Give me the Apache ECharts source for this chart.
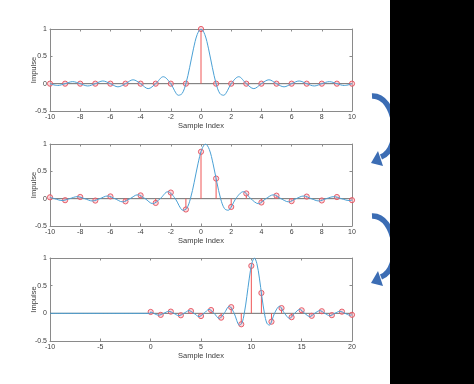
<!DOCTYPE html>
<html>
<head>
<meta charset="utf-8">
<script src="https://cdn.jsdelivr.net/npm/echarts@6/dist/echarts.min.js"></script>
<style>
html,body{margin:0;padding:0;background:#fff;}
#c{width:474px;height:384px;}
</style>
</head>
<body>
<div id="c"></div>
<script>
// ---- Data ----
const xTicks12 = [-10, -8, -6, -4, -2, 0, 2, 4, 6, 8, 10];
const xTicks3 = [-10, -5, 0, 5, 10, 15, 20];
const yTicks = [-0.5, 0, 0.5, 1];

// Plot 1: samples at integers -10..10
const samples1N = [-10,-9,-8,-7,-6,-5,-4,-3,-2,-1,0,1,2,3,4,5,6,7,8,9,10];
const samples1V = [0,0,0,0,0,0,0,0,0,0,1,0,0,0,0,0,0,0,0,0,0];
// Plot 1 continuous curve
const curve1 = [
  [-10,0],[-9.5,-0.034],[-9,0],[-8.5,0.037],[-8,0],[-7.5,-0.042],[-7,0],[-6.5,0.049],[-6,0],
  [-5.5,-0.058],[-5,0],[-4.5,0.071],[-4,0],[-3.5,-0.091],[-3,0],[-2.5,0.127],[-2,0],
  [-1.75,-0.129],[-1.5,-0.212],[-1.25,-0.180],[-1,0],[-0.75,0.300],[-0.5,0.637],[-0.25,0.900],
  [0,1],[0.25,0.900],[0.5,0.637],[0.75,0.300],[1,0],[1.25,-0.180],[1.5,-0.212],[1.75,-0.129],
  [2,0],[2.5,0.127],[3,0],[3.5,-0.091],[4,0],[4.5,0.071],[5,0],[5.5,-0.058],[6,0],[6.5,0.049],
  [7,0],[7.5,-0.042],[8,0],[8.5,0.037],[9,0],[9.5,-0.034],[10,0]
];

// Plot 2: samples at integers -10..10
const samples2N = [-10,-9,-8,-7,-6,-5,-4,-3,-2,-1,0,1,2,3,4,5,6,7,8,9,10];
const samples2V = [0.025,-0.028,0.031,-0.035,0.041,-0.049,0.060,-0.078,0.112,-0.198,0.858,0.368,-0.151,0.095,-0.070,0.055,-0.045,0.038,-0.033,0.030,-0.027];
const curve2 = [
  [-10,0.025],[-9.7,0],[-9.2,-0.034],[-8.7,0],[-8.2,0.037],[-7.7,0],[-7.2,-0.042],[-6.7,0],
  [-6.2,0.049],[-5.7,0],[-5.2,-0.058],[-4.7,0],[-4.2,0.071],[-3.7,0],[-3.2,-0.091],[-2.7,0],
  [-2.2,0.127],[-1.7,0],[-1.45,-0.129],[-1.2,-0.212],[-0.95,-0.180],[-0.7,0],[-0.45,0.300],
  [-0.2,0.637],[0.05,0.900],[0.3,1],[0.55,0.900],[0.8,0.637],[1.05,0.300],[1.3,0],
  [1.55,-0.180],[1.8,-0.212],[2.05,-0.129],[2.3,0],[2.8,0.127],[3.3,0],[3.8,-0.091],[4.3,0],
  [4.8,0.071],[5.3,0],[5.8,-0.058],[6.3,0],[6.8,0.049],[7.3,0],[7.8,-0.042],[8.3,0],
  [8.8,0.037],[9.3,0],[9.8,-0.034],[10,-0.027]
];

// Plot 3: samples at integers 0..20
const samples3N = [0,1,2,3,4,5,6,7,8,9,10,11,12,13,14,15,16,17,18,19,20];
const samples3V = [0.025,-0.028,0.031,-0.035,0.041,-0.049,0.060,-0.078,0.112,-0.198,0.858,0.368,-0.151,0.095,-0.070,0.055,-0.045,0.038,-0.033,0.030,-0.027];
const curve3 = [
  [-10,0],[-0.05,0],[0,0.025],[0.3,0],[0.8,-0.034],[1.3,0],[1.8,0.037],[2.3,0],[2.8,-0.042],
  [3.3,0],[3.8,0.049],[4.3,0],[4.8,-0.058],[5.3,0],[5.8,0.071],[6.3,0],[6.8,-0.091],[7.3,0],
  [7.8,0.127],[8.3,0],[8.55,-0.129],[8.8,-0.212],[9.05,-0.180],[9.3,0],[9.55,0.300],
  [9.8,0.637],[10.05,0.900],[10.3,1],[10.55,0.900],[10.8,0.637],[11.05,0.300],[11.3,0],
  [11.55,-0.180],[11.8,-0.212],[12.05,-0.129],[12.3,0],[12.8,0.127],[13.3,0],[13.8,-0.091],
  [14.3,0],[14.8,0.071],[15.3,0],[15.8,-0.058],[16.3,0],[16.8,0.049],[17.3,0],[17.8,-0.042],
  [18.3,0],[18.8,0.037],[19.3,0],[19.8,-0.034],[20,-0.027]
];

const xRanges = [[-10, 10, 2], [-10, 10, 2], [-10, 20, 5]];
const yLabel = 'Impulse';
const xLabel = 'Sample Index';

// ---- Styling ----
const FONT = 'Liberation Sans, Arial, sans-serif';
const AX = '#8a8a8a';
const TXT = '#3c3c3c';
const CURVE = '#4aa0d5';
const STEM = '#ef5656';

const grids = [
  {left: 50, top: 29, width: 302, height: 82},
  {left: 50, top: 144, width: 302, height: 82},
  {left: 50, top: 258, width: 302, height: 83}
];

const xAxes = [], yAxes = [];
grids.forEach((g, i) => {
  const r = xRanges[i];
  xAxes.push({
    type: 'value', gridIndex: i, position: 'bottom', min: r[0], max: r[1], interval: r[2],
    name: xLabel, nameLocation: 'middle', nameGap: 11, nameMoveOverlap: false,
    nameTextStyle: {fontFamily: FONT, fontSize: 7.5, color: TXT},
    axisLine: {show: true, onZero: false, lineStyle: {color: AX, width: 1}},
    axisTick: {show: true, inside: true, length: 2.5, lineStyle: {color: AX}},
    axisLabel: {fontFamily: FONT, fontSize: 7, color: TXT, margin: 3},
    splitLine: {show: false}
  });
  xAxes.push({
    type: 'value', gridIndex: i, position: 'top', min: r[0], max: r[1], interval: r[2],
    axisLine: {show: true, onZero: false, lineStyle: {color: AX, width: 1}},
    axisTick: {show: true, inside: true, length: 2.5, lineStyle: {color: AX}},
    axisLabel: {show: false}, splitLine: {show: false}
  });
  yAxes.push({
    type: 'value', gridIndex: i, position: 'left', min: -0.5, max: 1, interval: 0.5,
    name: yLabel, nameLocation: 'middle', nameGap: 12, nameMoveOverlap: false,
    nameTextStyle: {fontFamily: FONT, fontSize: 7.5, color: TXT},
    axisLine: {show: true, onZero: false, lineStyle: {color: AX, width: 1}},
    axisTick: {show: true, inside: true, length: 2.5, lineStyle: {color: AX}},
    axisLabel: {fontFamily: FONT, fontSize: 7, color: TXT, margin: 3,
      formatter: v => String(v)},
    splitLine: {show: false}
  });
  yAxes.push({
    type: 'value', gridIndex: i, position: 'right', min: -0.5, max: 1, interval: 0.5,
    axisLine: {show: true, onZero: false, lineStyle: {color: AX, width: 1}},
    axisTick: {show: true, inside: true, length: 2.5, lineStyle: {color: AX}},
    axisLabel: {show: false}, splitLine: {show: false}
  });
});

function stemRender(params, api) {
  const x = api.value(0), y = api.value(1);
  const p0 = api.coord([x, 0]);
  const p1 = api.coord([x, y]);
  return {
    type: 'group',
    children: [
      {type: 'line', shape: {x1: p0[0], y1: p0[1], x2: p1[0], y2: p1[1]},
       style: {stroke: STEM, lineWidth: 1}},
      {type: 'circle', shape: {cx: p1[0], cy: p1[1], r: 2.6},
       style: {fill: 'rgba(255,185,195,0.55)', stroke: '#e2505c', lineWidth: 0.9}}
    ]
  };
}

const sampleSets = [[samples1N, samples1V], [samples2N, samples2V], [samples3N, samples3V]];
const curves = [curve1, curve2, curve3];
const series = [];
grids.forEach((g, i) => {
  const r = xRanges[i];
  series.push({
    type: 'line', xAxisIndex: i * 2, yAxisIndex: i * 2,
    data: [[r[0], 0], [r[1], 0]], symbol: 'none', silent: true, z: 1,
    lineStyle: {color: '#6e6e6e', width: 1}
  });
  series.push({
    type: 'custom', xAxisIndex: i * 2, yAxisIndex: i * 2, z: 2,
    renderItem: stemRender,
    data: sampleSets[i][0].map((n, k) => [n, sampleSets[i][1][k]])
  });
  series.push({
    type: 'line', xAxisIndex: i * 2, yAxisIndex: i * 2, z: 3,
    data: curves[i], symbol: 'none', smooth: 0.35,
    lineStyle: {color: CURVE, width: 1}
  });
});

function arrow(dy) {
  return {
    type: 'group', position: [0, dy], z: 20,
    children: [
      {type: 'bezierCurve',
       shape: {x1: 372, y1: 96, cpx1: 396, cpy1: 95, cpx2: 403, cpy2: 148, x2: 381, y2: 157},
       style: {stroke: '#3c6db4', lineWidth: 5.5, fill: null, lineCap: 'butt'}},
      {type: 'polygon',
       shape: {points: [[371, 163], [378, 151], [383, 166]]},
       style: {fill: '#3c6db4'}}
    ]
  };
}

const chart = echarts.init(document.getElementById('c'), null, {renderer: 'canvas'});
chart.setOption({
  animation: false,
  backgroundColor: '#ffffff',
  grid: grids,
  xAxis: xAxes,
  yAxis: yAxes,
  series: series,
  graphic: [
    {type: 'rect', shape: {x: 390, y: 0, width: 84, height: 384}, style: {fill: '#000'}, z: 10},
    arrow(0),
    arrow(120)
  ]
});
</script>
</body>
</html>
